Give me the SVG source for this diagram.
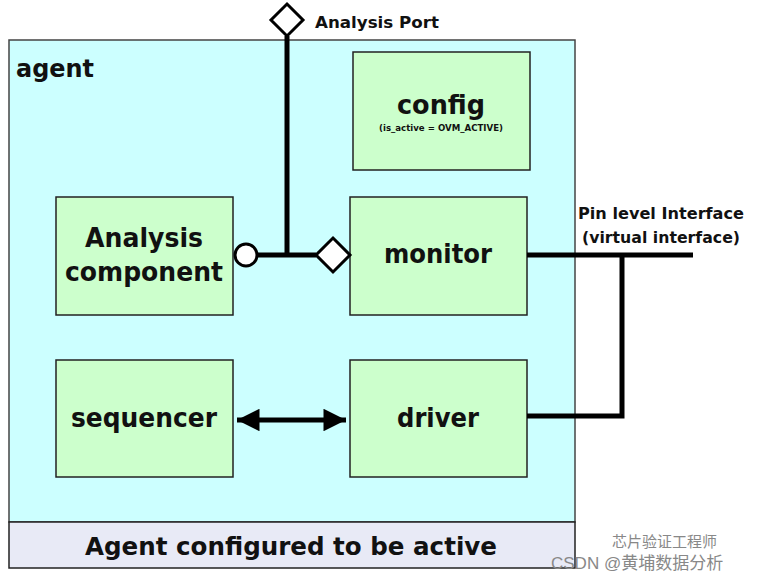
<svg xmlns="http://www.w3.org/2000/svg" width="758" height="578" viewBox="0 0 758 578">
<style>
.box{fill:#ccffcc;stroke:#222;stroke-width:1.5}
.t{font-family:"DejaVu Sans",Verdana,sans-serif;font-weight:bold;fill:#111;text-anchor:middle}
.w{stroke:#000;stroke-width:5;fill:none}
.wm{font-family:"Liberation Sans","Noto Sans CJK SC",sans-serif;fill:#888}
</style>
<defs>
<marker id="ah" viewBox="0 0 10 10" refX="10" refY="5" markerWidth="6.5" markerHeight="4.5" orient="auto-start-reverse" markerUnits="strokeWidth"><path d="M0,0L10,5L0,10z" fill="#000"/></marker>
</defs>
<rect width="758" height="578" fill="#fff"/>
<g id="agent">
<rect x="9" y="40" width="566" height="482" fill="#ccffff" stroke="#444" stroke-width="1.5"/>
<text x="16" y="77" class="t" style="text-anchor:start" font-size="24" textLength="78" lengthAdjust="spacingAndGlyphs">agent</text>
</g>
<g id="footer">
<rect x="9" y="522" width="566" height="46" fill="#e8eaf6" stroke="#222" stroke-width="1.5"/>
<text x="291" y="555" class="t" font-size="25" textLength="412" lengthAdjust="spacingAndGlyphs">Agent configured to be active</text>
</g>
<g id="config"><rect class="box" x="353" y="52" width="177" height="118"/>
<text x="441" y="114" class="t" font-size="27" textLength="88" lengthAdjust="spacingAndGlyphs">config</text>
<text x="441" y="131" class="t" font-size="8.5" textLength="124" lengthAdjust="spacingAndGlyphs">(is_active = OVM_ACTIVE)</text></g>
<g id="analysis"><rect class="box" x="56" y="197" width="177" height="118"/>
<text x="144" y="247" class="t" font-size="26" textLength="118" lengthAdjust="spacingAndGlyphs">Analysis</text>
<text x="144" y="281" class="t" font-size="26" textLength="158" lengthAdjust="spacingAndGlyphs">component</text></g>
<g id="monitor"><rect class="box" x="350" y="197" width="177" height="118"/>
<text x="438" y="263" class="t" font-size="26" textLength="108" lengthAdjust="spacingAndGlyphs">monitor</text></g>
<g id="sequencer"><rect class="box" x="56" y="360" width="177" height="117"/>
<text x="144" y="427" class="t" font-size="26" textLength="146" lengthAdjust="spacingAndGlyphs">sequencer</text></g>
<g id="driver"><rect class="box" x="350" y="360" width="177" height="117"/>
<text x="438" y="427" class="t" font-size="26" textLength="82" lengthAdjust="spacingAndGlyphs">driver</text></g>
<g id="connectors">
<path class="w" d="M287,36V255M257,255H316"/>
<path class="w" d="M527,255H693M622,255V416H527"/>
<line x1="237" y1="420" x2="346" y2="420" class="w" marker-start="url(#ah)" marker-end="url(#ah)"/>
<path d="M287,4L303,20L287,36L271,20z" fill="#fff" stroke="#000" stroke-width="3"/>
<path d="M333,238L350,255L333,272L316,255z" fill="#fff" stroke="#000" stroke-width="3"/>
<circle cx="246" cy="255" r="11" fill="#fff" stroke="#000" stroke-width="3"/>
</g>
<g id="labels">
<text x="315" y="28" class="t" style="text-anchor:start" font-size="15" textLength="124" lengthAdjust="spacingAndGlyphs">Analysis Port</text>
<text x="661" y="219" class="t" font-size="15" textLength="166" lengthAdjust="spacingAndGlyphs">Pin level Interface</text>
<text x="661" y="243" class="t" font-size="15" textLength="158" lengthAdjust="spacingAndGlyphs">(virtual interface)</text>
</g>
<g id="watermark">
<text x="612" y="547" class="wm" font-size="15">芯片验证工程师</text>
<text x="551" y="569" class="wm" font-size="17">CSDN @黄埔数据分析</text>
</g>
</svg>
